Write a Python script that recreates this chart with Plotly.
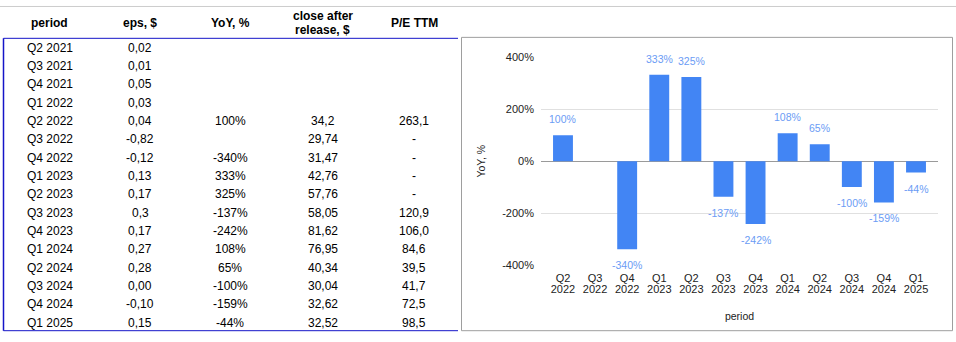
import plotly.graph_objects as go

W, H = 956, 342

# ---- table data ----
headers = ["period", "eps, $", "YoY, %", "close after<br>release, $", "P/E TTM"]
periods = ["Q2 2021", "Q3 2021", "Q4 2021", "Q1 2022", "Q2 2022", "Q3 2022", "Q4 2022", "Q1 2023",
           "Q2 2023", "Q3 2023", "Q4 2023", "Q1 2024", "Q2 2024", "Q3 2024", "Q4 2024", "Q1 2025"]
eps = ["0,02", "0,01", "0,05", "0,03", "0,04", "-0,82", "-0,12", "0,13",
       "0,17", "0,3", "0,17", "0,27", "0,28", "0,00", "-0,10", "0,15"]
yoy_text = ["", "", "", "", "100%", "", "-340%", "333%",
            "325%", "-137%", "-242%", "108%", "65%", "-100%", "-159%", "-44%"]
close_after = ["", "", "", "", "34,2", "29,74", "31,47", "42,76",
               "57,76", "58,05", "81,62", "76,95", "40,34", "30,04", "32,62", "32,52"]
pe_ttm = ["", "", "", "", "263,1", "-", "-", "-",
          "-", "120,9", "106,0", "84,6", "39,5", "41,7", "72,5", "98,5"]

# ---- chart data ----
chart_quarters = ["Q2", "Q3", "Q4", "Q1", "Q2", "Q3", "Q4", "Q1", "Q2", "Q3", "Q4", "Q1"]
chart_years = ["2022", "2022", "2022", "2023", "2023", "2023", "2023", "2024", "2024", "2024", "2024", "2025"]
chart_yoy = [100, None, -340, 333, 325, -137, -242, 108, 65, -100, -159, -44]
y_ticks = [-400, -200, 0, 200, 400]
y_ticktext = ["-400%", "-200%", "0%", "200%", "400%"]

FONT = "Arial, Liberation Sans, sans-serif"
BLUE = "#4285F4"
LABEL_BLUE = "#6b9cf5"
idx = list(range(len(chart_quarters)))
x_range = [-0.685, len(idx) - 1 + 0.685]


def px(x):
    return x / W


def py(y):
    return 1 - y / H


fig = go.Figure()

fig.add_trace(go.Bar(
    x=idx, y=chart_yoy, marker=dict(color=BLUE, line=dict(width=0)),
    hoverinfo="skip", showlegend=False,
))

annotations = []
# data labels
for i, v in zip(idx, chart_yoy):
    if v is None:
        continue
    annotations.append(dict(
        x=i, y=v, xref="x", yref="y", text=f"{v}%", showarrow=False,
        yshift=16 if v >= 0 else -16, xanchor="center", yanchor="middle",
        font=dict(family=FONT, size=10.5, color=LABEL_BLUE),
    ))

# table text
col_x = [49.5, 140, 230, 322.5, 414]
row0, row_h = 43.3, 19.0
header_y = 17.3
for i, h in enumerate(headers):
    if "<br>" in h:
        parts = h.split("<br>")
        for j, p in enumerate(parts):
            annotations.append(dict(
                x=px(col_x[i]), y=py(10.5 + 14 * j), xref="paper", yref="paper",
                text=f"<b>{p}</b>", showarrow=False, xanchor="center", yanchor="middle",
                font=dict(family=FONT, size=12, color="#000"),
            ))
    else:
        annotations.append(dict(
            x=px(col_x[i]), y=py(header_y), xref="paper", yref="paper",
            text=f"<b>{h}</b>", showarrow=False, xanchor="center", yanchor="middle",
            font=dict(family=FONT, size=12, color="#000"),
        ))

columns = [periods, eps, yoy_text, close_after, pe_ttm]
for ci, col in enumerate(columns):
    for ri, val in enumerate(col):
        if not val:
            continue
        annotations.append(dict(
            x=px(col_x[ci]), y=py(row0 + row_h * ri), xref="paper", yref="paper",
            text=val, showarrow=False, xanchor="center", yanchor="middle",
            font=dict(family=FONT, size=12, color="#000"),
        ))

shapes = [
    # top gray line
    dict(type="line", xref="paper", yref="paper", x0=0, x1=1, y0=py(0.5), y1=py(0.5),
         line=dict(color="#cccccc", width=1)),
    # blue border of the table (top, left, bottom)
    dict(type="line", xref="paper", yref="paper", x0=px(3.5), x1=px(458), y0=py(33.5), y1=py(33.5),
         line=dict(color="#1515c8", width=1)),
    dict(type="line", xref="paper", yref="paper", x0=px(3.5), x1=px(3.5), y0=py(33.5), y1=py(336.5),
         line=dict(color="#1515c8", width=1.5)),
    dict(type="line", xref="paper", yref="paper", x0=px(3.5), x1=px(458), y0=py(336.5), y1=py(336.5),
         line=dict(color="#1515c8", width=1)),
    # chart border
    dict(type="rect", xref="paper", yref="paper", x0=px(461.5), x1=px(952.5), y0=py(32.5), y1=py(336.5),
         line=dict(color="#9e9e9e", width=1), fillcolor="rgba(0,0,0,0)", layer="below"),
]

fig.add_trace(go.Scatter(x=[], y=[], xaxis="x2", yaxis="y", showlegend=False, hoverinfo="skip"))

fig.update_layout(
    width=W, height=H,
    margin=dict(l=0, r=0, t=0, b=0),
    paper_bgcolor="white", plot_bgcolor="white",
    bargap=0.38,
    font=dict(family=FONT, size=11, color="#222"),
    annotations=annotations,
    shapes=shapes,
    xaxis=dict(
        domain=[px(541), px(938)],
        range=x_range, tickmode="array", tickvals=idx, ticktext=chart_quarters,
        showgrid=False, zeroline=False, showline=False,
        ticks="", ticklabelstandoff=5,
        tickfont=dict(family=FONT, size=11, color="#222"),
        fixedrange=True,
    ),
    xaxis2=dict(
        overlaying="x", anchor="y", side="bottom",
        range=x_range, tickmode="array", tickvals=idx, ticktext=chart_years,
        showgrid=False, zeroline=False, showline=False,
        ticks="", ticklabelstandoff=16,
        tickfont=dict(family=FONT, size=11, color="#222"),
        title=dict(text="period", font=dict(family=FONT, size=10.5, color="#222"), standoff=18),
        fixedrange=True,
    ),
    yaxis=dict(
        domain=[py(268.3), py(53.3)],
        range=[-400, 400],
        tickvals=y_ticks, ticktext=y_ticktext,
        showgrid=True, gridcolor="#e0e0e0", gridwidth=1,
        zeroline=True, zerolinecolor="#9a9a9a", zerolinewidth=1,
        showline=False, ticks="", ticklabelstandoff=6,
        tickfont=dict(family=FONT, size=11, color="#222"),
        title=dict(text="YoY, %", font=dict(family=FONT, size=10.5, color="#222"), standoff=14),
        fixedrange=True,
    ),
)

fig.write_html("out.html", config={"displayModeBar": False})
